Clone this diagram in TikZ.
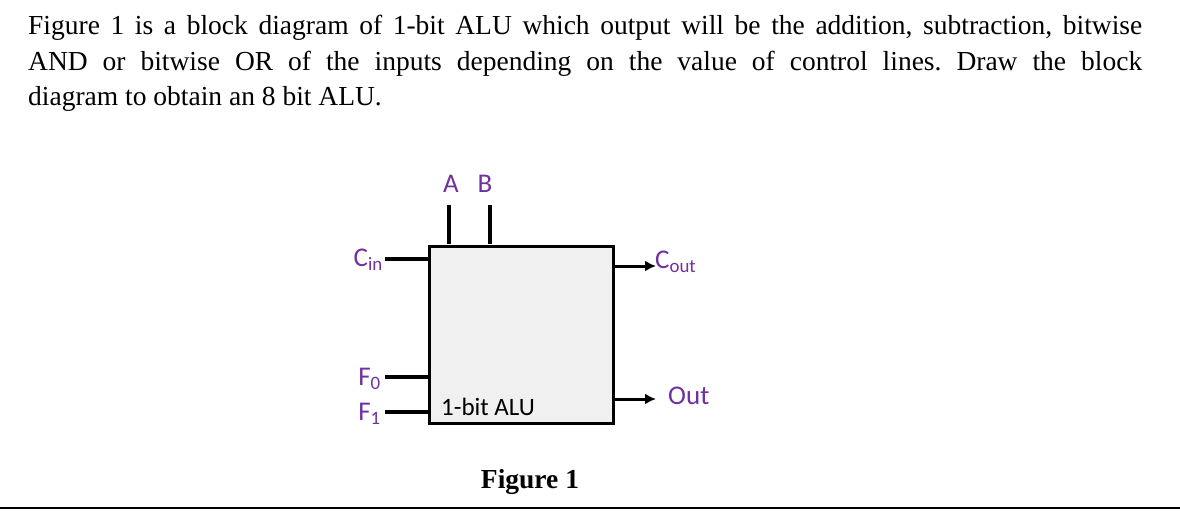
\documentclass[tikz,border=0pt]{standalone}
\usepackage{fontspec}
\setmainfont{Liberation Serif}
\newfontfamily\carfont{Carlito}
\usetikzlibrary{arrows.meta}
\definecolor{lab}{RGB}{112,48,160}
\frenchspacing
\begin{document}
\begin{tikzpicture}[x=1pt,y=-1pt,
  wire/.style={line width=3.4pt},
  arr/.style={line width=3pt,-{Latex[length=11pt,width=11pt]}},
  lbl/.style={font=\carfont\fontsize{27}{30}\selectfont,text=lab,inner sep=0pt}]
\useasboundingbox (0,0) rectangle (1180,512);
\node[anchor=north west,inner sep=0pt,font=\fontsize{27.5}{35.5}\selectfont] (txt) at (28,15)
 {\parbox{1114pt}{Figure 1 is a block diagram of 1-bit ALU which output will be the addition, subtraction, bitwise\linebreak AND or bitwise OR of the inputs depending on the value of control lines. Draw the block\linebreak diagram to obtain an 8 bit ALU.}};
\node[draw,line width=3.4pt,fill={rgb,255:red,240;green,240;blue,240},minimum width=184pt,minimum height=177pt,anchor=north west,inner sep=0pt] (alu) at (428,245) {};
\node[lbl,text=black,font=\carfont\fontsize{25}{28}\selectfont,anchor=south west] (name) at (441,416) {1-bit ALU};
\coordinate (a0) at (449,244); \coordinate (a1) at (449,205);
\coordinate (b0) at (490,244); \coordinate (b1) at (490,205);
\draw[wire] (a0)--(a1); \draw[wire] (b0)--(b1);
\node[lbl] (A) at (451,184) {A};
\node[lbl] (B) at (485,184) {B};
\coordinate (c0) at (385,259); \draw[wire] (c0)--(c0-|alu.west);
\node[lbl,anchor=east] (cin) at (383,260) {C\textsubscript{in}};
\coordinate (f0) at (385,377); \draw[wire] (f0)--(f0-|alu.west);
\coordinate (f1) at (385,412); \draw[wire] (f1)--(f1-|alu.west);
\node[lbl,anchor=east] (F0) at (381,379) {F\textsubscript{0}};
\node[lbl,anchor=east] (F1) at (381,414) {F\textsubscript{1}};
\coordinate (co) at (656,266); \draw[arr] (co-|alu.east)--(co);
\node[lbl,anchor=west] (cout) at (655,262) {C\textsubscript{out}};
\coordinate (o) at (656,399); \draw[arr] (o-|alu.east)--(o);
\node[lbl,anchor=west] (out) at (668,396) {Out};
\node[font=\bfseries\fontsize{27.5}{30}\selectfont,inner sep=0pt] (fig) at (530,482) {Figure 1};
\draw[line width=2pt] (0,508)--(1180,508);
\end{tikzpicture}
\end{document}
